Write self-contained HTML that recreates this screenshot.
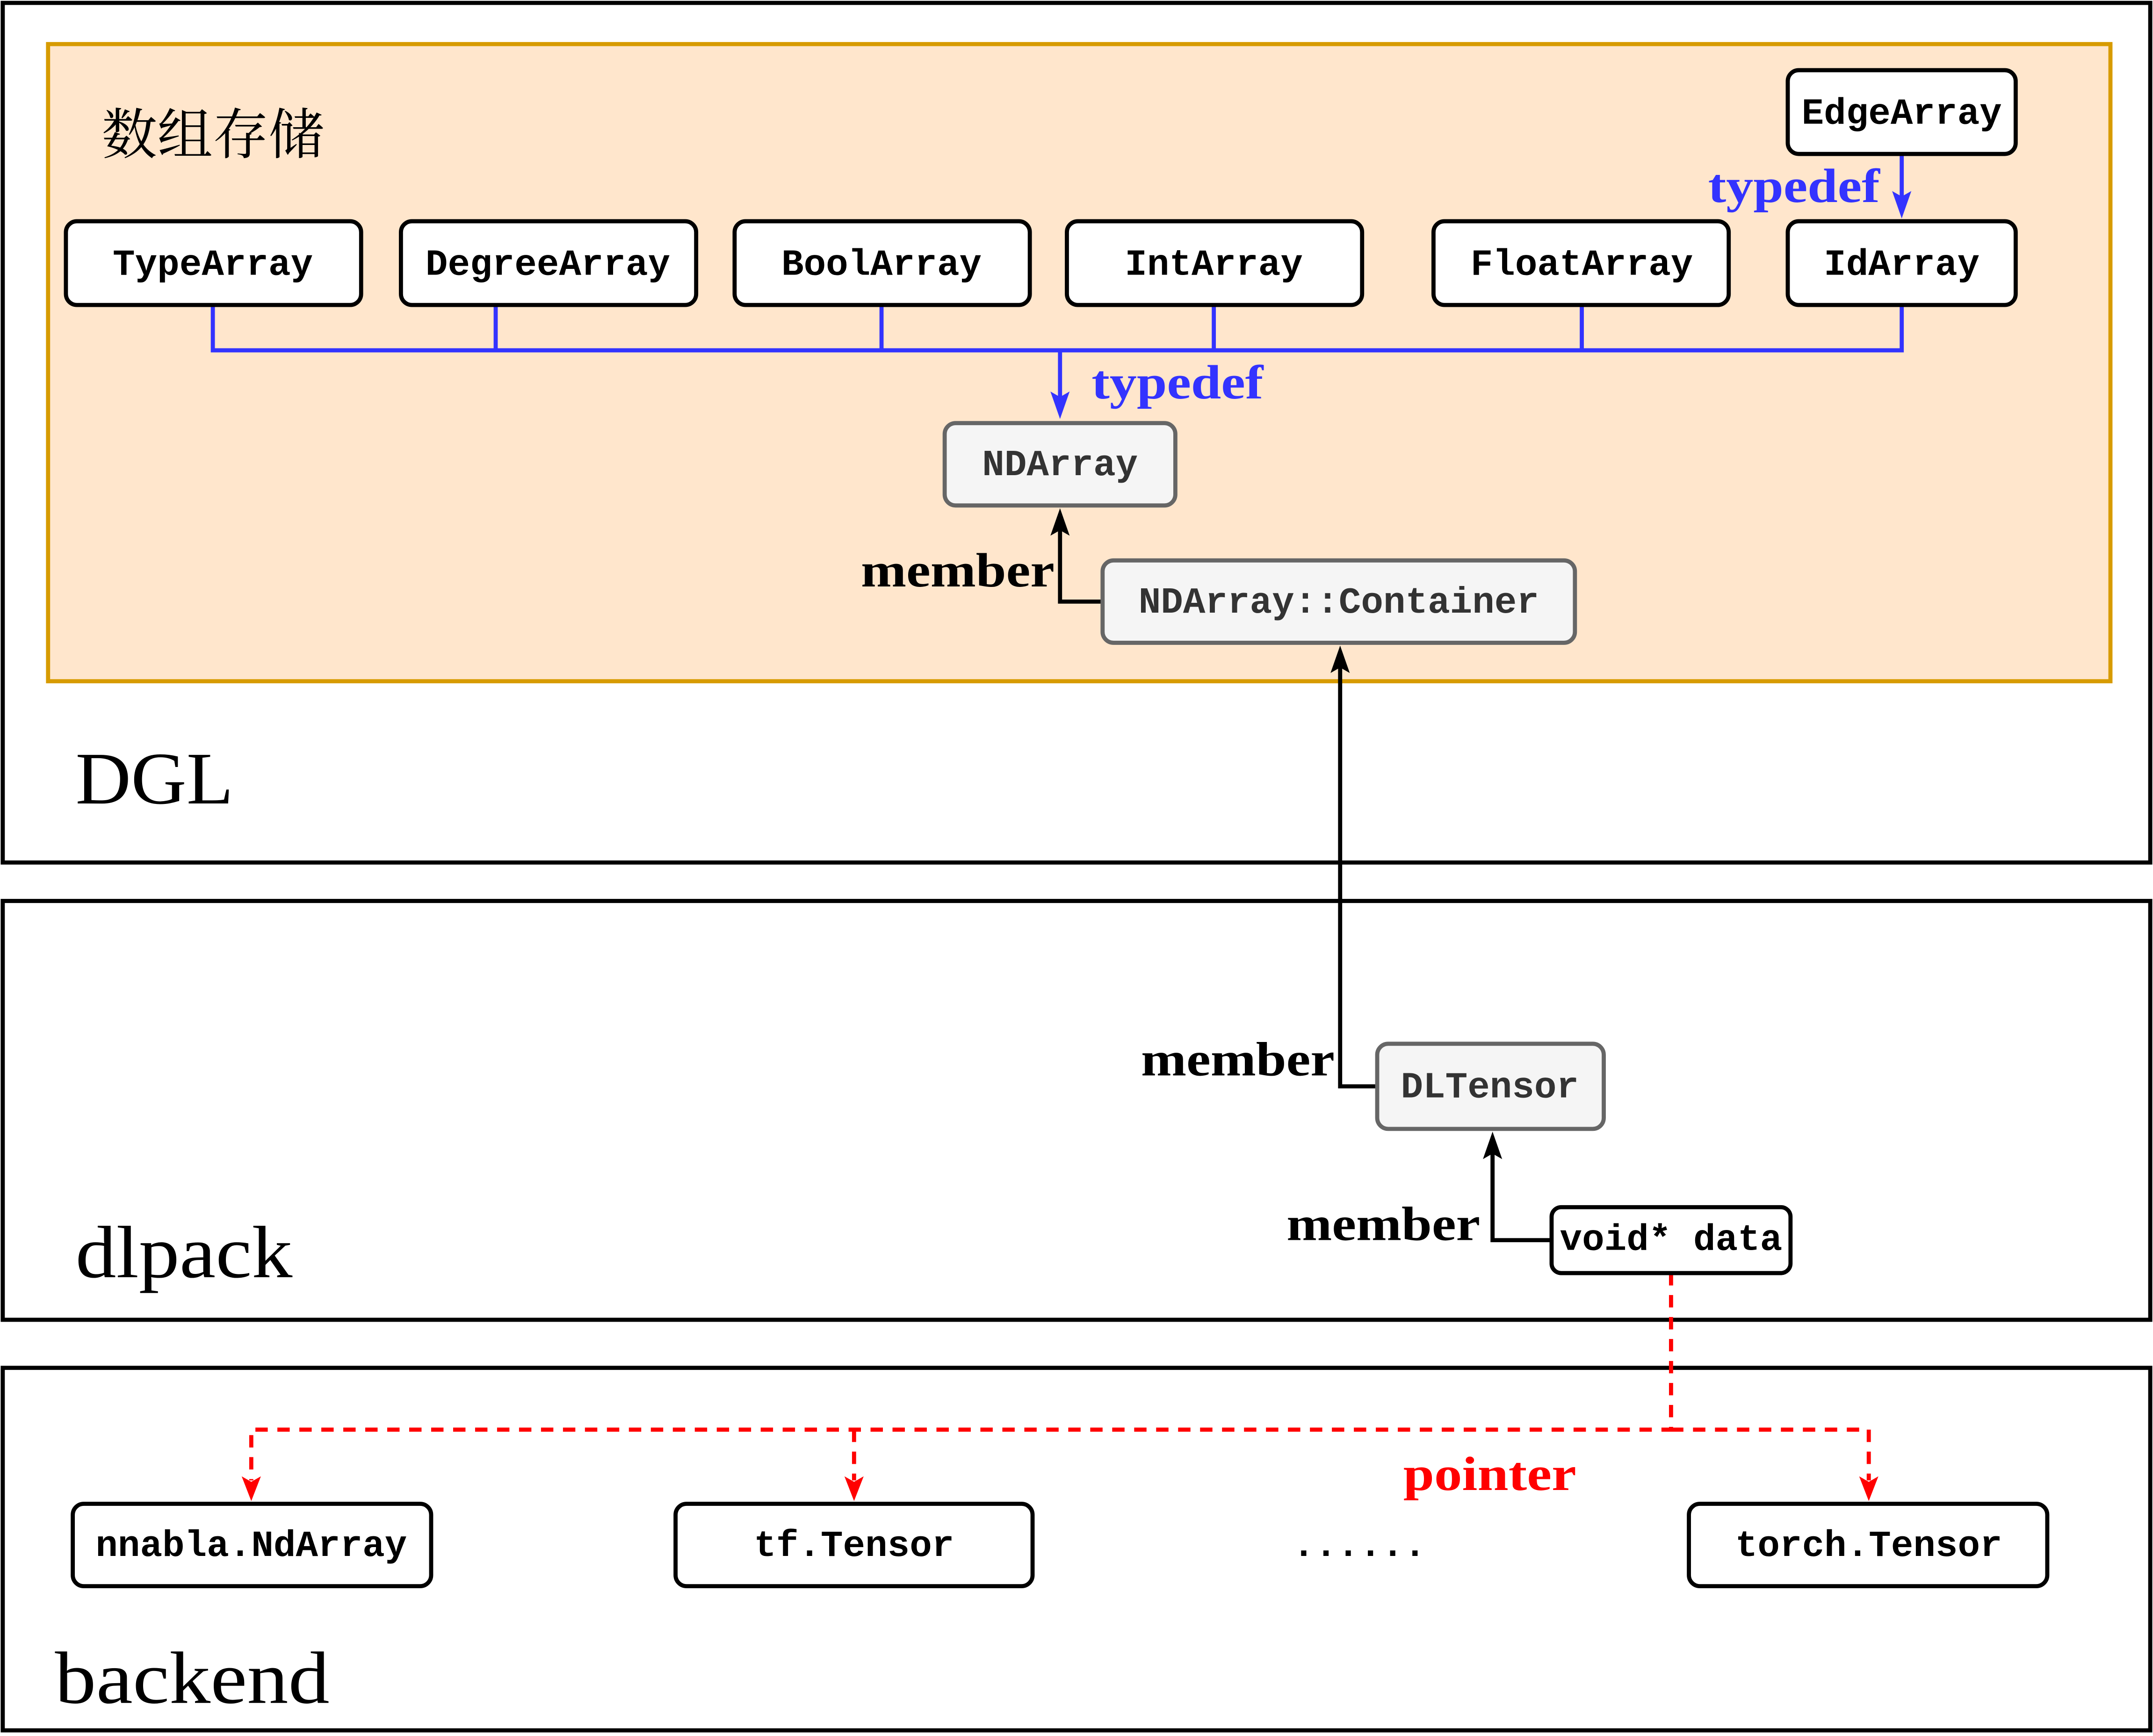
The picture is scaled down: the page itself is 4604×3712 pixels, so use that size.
<!DOCTYPE html>
<html><head><meta charset="utf-8"><style>html,body{margin:0;padding:0;background:#fff}svg{display:block}</style></head>
<body>
<svg width="4604" height="3712" viewBox="0 0 1568 1264" xmlns="http://www.w3.org/2000/svg">
<rect width="1568" height="1264" fill="#fff"/>
<rect x="2" y="2" width="1564" height="626" fill="#fff" stroke="#000" stroke-width="3"/>
<rect x="35" y="32" width="1502" height="464" fill="#ffe6cc" stroke="#d79b00" stroke-width="3"/>
<rect x="2" y="656" width="1564" height="305" fill="#fff" stroke="#000" stroke-width="3"/>
<rect x="2" y="996" width="1564" height="264" fill="#fff" stroke="#000" stroke-width="3"/>
<g font-family="'Liberation Serif','Noto Serif CJK SC',serif">
<text x="74" y="112" font-size="40" textLength="162" lengthAdjust="spacingAndGlyphs">数组存储</text>
<text x="55" y="585" font-size="54" textLength="115" lengthAdjust="spacingAndGlyphs">DGL</text>
<text x="55" y="930" font-size="54" textLength="158" lengthAdjust="spacingAndGlyphs">dlpack</text>
<text x="40" y="1240" font-size="54" textLength="200" lengthAdjust="spacingAndGlyphs">backend</text>
<g font-weight="bold" font-size="35" lengthAdjust="spacingAndGlyphs">
<text x="795" y="290" fill="#3333ff" textLength="125" lengthAdjust="spacingAndGlyphs">typedef</text>
<text x="1244" y="147" fill="#3333ff" textLength="125" lengthAdjust="spacingAndGlyphs">typedef</text>
<text x="627" y="427" textLength="141" lengthAdjust="spacingAndGlyphs">member</text>
<text x="831" y="783" textLength="141" lengthAdjust="spacingAndGlyphs">member</text>
<text x="937" y="903" textLength="141" lengthAdjust="spacingAndGlyphs">member</text>
<text x="1022" y="1085" fill="#ff0000" textLength="126" lengthAdjust="spacingAndGlyphs">pointer</text>
</g>
</g>
<g stroke="#3333ff" stroke-width="3" fill="none">
<path d="M155,222V255H1385V222M361,222V255M642,222V255M884,222V255M1152,222V255"/>
<path d="M772,255V290"/>
<path d="M1385,112V145"/>
</g>
<path d="M765,285 L772,305 L779,285 L772,289z" fill="#3333ff"/>
<path d="M1378,139 L1385,159 L1392,139 L1385,143z" fill="#3333ff"/>
<g stroke="#000" stroke-width="3" fill="none">
<path d="M803,438H772V380"/>
<path d="M1003,791H976V480"/>
<path d="M1130,903H1087V834"/>
</g>
<g fill="#000">
<path d="M765,390 L772,370 L779,390 L772,386z"/>
<path d="M969,490 L976,470 L983,490 L976,486z"/>
<path d="M1080,844 L1087,824 L1094,844 L1087,840z"/>
</g>
<g stroke="#ff0000" stroke-width="3" fill="none" stroke-dasharray="9,7">
<path d="M1217,927V1041H183V1078M622,1041V1078M1217,1041H1361V1078"/>
</g>
<g fill="#ff0000">
<path d="M176,1075 L183,1093 L190,1075 L183,1079z"/>
<path d="M615,1075 L622,1093 L629,1075 L622,1079z"/>
<path d="M1354,1075 L1361,1093 L1368,1075 L1361,1079z"/>
</g>
<g stroke="#000" stroke-width="3" fill="#fff">
<rect x="48" y="161" width="215" height="61" rx="8"/>
<rect x="292" y="161" width="215" height="61" rx="8"/>
<rect x="535" y="161" width="215" height="61" rx="8"/>
<rect x="777" y="161" width="215" height="61" rx="8"/>
<rect x="1044" y="161" width="215" height="61" rx="8"/>
<rect x="1302" y="161" width="166" height="61" rx="8"/>
<rect x="1302" y="51" width="166" height="61" rx="8"/>
<rect x="1130" y="879" width="174" height="48" rx="7"/>
<rect x="53" y="1095" width="261" height="60" rx="8"/>
<rect x="492" y="1095" width="260" height="60" rx="8"/>
<rect x="1230" y="1095" width="261" height="60" rx="8"/>
</g>
<g stroke="#666" stroke-width="3" fill="#f5f5f5">
<rect x="688" y="308" width="168" height="60" rx="8"/>
<rect x="803" y="408" width="344" height="60" rx="8"/>
<rect x="1003" y="760" width="165" height="62" rx="8"/>
</g>
<g font-family="'Liberation Mono',monospace" font-weight="bold" font-size="27" text-anchor="middle">
<text x="155" y="200">TypeArray</text>
<text x="399" y="200">DegreeArray</text>
<text x="642" y="200">BoolArray</text>
<text x="884" y="200">IntArray</text>
<text x="1152" y="200">FloatArray</text>
<text x="1385" y="200">IdArray</text>
<text x="1385" y="90">EdgeArray</text>
<g fill="#333">
<text x="772" y="346">NDArray</text>
<text x="975" y="446">NDArray::Container</text>
<text x="1085" y="799">DLTensor</text>
</g>
<text x="1217" y="910">void* data</text>
<text x="183" y="1133">nnabla.NdArray</text>
<text x="622" y="1133">tf.Tensor</text>
<text x="1361" y="1133">torch.Tensor</text>
<text x="990" y="1133">......</text>
</g>
</svg>
</body></html>
